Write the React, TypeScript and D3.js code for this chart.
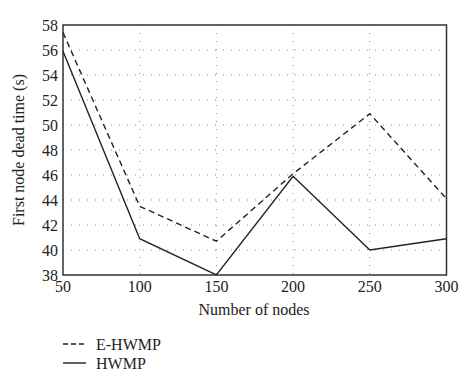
import React from "react";
import * as d3 from "d3";

const nodes = [50, 100, 150, 200, 250, 300];
const eHwmp = [57.4, 43.5, 40.7, 46.1, 50.9, 44.1];
const hwmp = [55.9, 40.9, 38.0, 45.9, 40.0, 40.9];
const xTicks = [50, 100, 150, 200, 250, 300];
const yTicks = [38, 40, 42, 44, 46, 48, 50, 52, 54, 56, 58];
const seriesNames = ["E-HWMP", "HWMP"];

const W = 474;
const H = 390;
const left = 63;
const right = 446.5;
const top = 25;
const bottom = 275;
const font = "'Liberation Serif', 'DejaVu Serif', serif";

export default function App() {
  const x = d3.scaleLinear().domain([50, 300]).range([left, right]);
  const y = d3.scaleLinear().domain([38, 58]).range([bottom, top]);
  const line = d3
    .line<number>()
    .x((_, i) => x(nodes[i]))
    .y((d) => y(d));

  return (
    <svg
      width={W}
      height={H}
      style={{ position: "absolute", left: 0, top: 0, background: "#fff" }}
      fontFamily={font}
    >
      {/* grid */}
      {yTicks
        .filter((t) => t !== 38 && t !== 58)
        .map((t) => (
          <line
            key={"gy" + t}
            x1={left}
            x2={right}
            y1={y(t)}
            y2={y(t)}
            stroke="#888"
            strokeWidth={1}
            strokeDasharray="1,7"
          />
        ))}
      {xTicks
        .filter((t) => t !== 50 && t !== 300)
        .map((t) => (
          <line
            key={"gx" + t}
            x1={x(t)}
            x2={x(t)}
            y1={top}
            y2={bottom}
            stroke="#888"
            strokeWidth={1}
            strokeDasharray="1,7"
          />
        ))}
      {/* frame */}
      <rect
        x={left}
        y={top}
        width={right - left}
        height={bottom - top}
        fill="none"
        stroke="#333"
        strokeWidth={1.5}
      />
      {/* lines */}
      <path d={line(eHwmp) || ""} fill="none" stroke="#222" strokeWidth={1.4} strokeDasharray="6,4" />
      <path d={line(hwmp) || ""} fill="none" stroke="#222" strokeWidth={1.4} />
      {/* y tick labels */}
      {yTicks.map((t) => (
        <text key={"yt" + t} x={58} y={y(t)} dy="0.35em" textAnchor="end" fontSize={16} fill="#222">
          {t}
        </text>
      ))}
      {/* x tick labels */}
      {xTicks.map((t) => (
        <text key={"xt" + t} x={x(t)} y={292} textAnchor="middle" fontSize={16} fill="#222">
          {t}
        </text>
      ))}
      {/* axis titles */}
      <text x={254} y={315} textAnchor="middle" fontSize={16} fill="#222">
        Number of nodes
      </text>
      <text
        transform={`translate(24,${(top + bottom) / 2}) rotate(-90)`}
        textAnchor="middle"
        fontSize={16}
        fill="#222"
      >
        First node dead time (s)
      </text>
      {/* legend */}
      <line x1={63} x2={86} y1={344} y2={344} stroke="#222" strokeWidth={1.4} strokeDasharray="5,3" />
      <text x={96} y={349.5} fontSize={16} fill="#222">
        {seriesNames[0]}
      </text>
      <line x1={63} x2={86} y1={363} y2={363} stroke="#222" strokeWidth={1.4} />
      <text x={96} y={368.5} fontSize={16} fill="#222">
        {seriesNames[1]}
      </text>
    </svg>
  );
}
